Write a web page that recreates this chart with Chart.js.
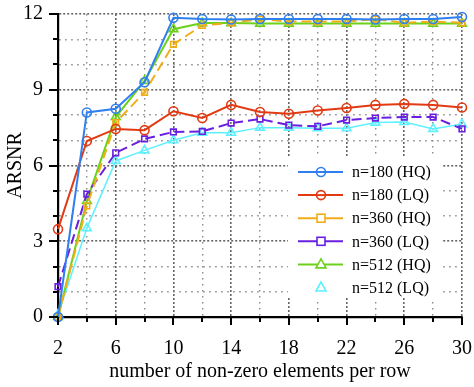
<!DOCTYPE html>
<html>
<head>
<meta charset="utf-8">
<script src="https://cdn.jsdelivr.net/npm/chart.js@4/dist/chart.umd.min.js"></script>
<style>
html,body{margin:0;padding:0;background:#fff;}
#c{display:block;}
</style>
</head>
<body>
<canvas id="c" width="474" height="387"></canvas>
<script>
const xValues = [2,4,6,8,10,12,14,16,18,20,22,24,26,28,30];
const n180HQ = [0, 8.1, 8.25, 9.3, 11.85, 11.8, 11.78, 11.8, 11.8, 11.8, 11.8, 11.78, 11.8, 11.8, 11.88];
const n180LQ = [3.48, 6.97, 7.45, 7.4, 8.15, 7.88, 8.4, 8.12, 8.05, 8.18, 8.28, 8.4, 8.44, 8.4, 8.3];
const n360HQ = [0, 4.4, 7.7, 8.9, 10.8, 11.55, 11.65, 11.8, 11.7, 11.7, 11.7, 11.8, 11.65, 11.7, 11.65];
const n360LQ = [1.2, 4.87, 6.5, 7.05, 7.33, 7.35, 7.68, 7.84, 7.6, 7.55, 7.8, 7.88, 7.92, 7.92, 7.45];
const n512HQ = [0, 4.6, 7.92, 9.35, 11.4, 11.64, 11.64, 11.62, 11.62, 11.62, 11.62, 11.62, 11.62, 11.62, 11.62];
const n512LQ = [0.1, 3.52, 6.18, 6.6, 7.0, 7.3, 7.3, 7.5, 7.5, 7.48, 7.48, 7.7, 7.72, 7.45, 7.64];
const seriesLabels = ['n=180 (HQ)','n=180 (LQ)','n=360 (HQ)','n=360 (LQ)','n=512 (HQ)','n=512 (LQ)'];
const xTickLabels = [2,6,10,14,18,22,26,30];
const yTickLabels = [0,3,6,9,12];
const xTitle = 'number of non-zero elements per row';
const yTitle = 'ARSNR';

const FONT = '"Liberation Serif","Times New Roman",serif';
const colors = ['#2f7ff0','#e23a12','#f0ad1a','#6a1fe0','#6dd11c','#5ef0ff'];
const styles = [
  {pt:'circle', r:4.5, dash:[], w:2},
  {pt:'circle', r:4.5, dash:[], w:2},
  {pt:'rect', r:4, dash:[10,5], w:2},
  {pt:'rect', r:4, dash:[10,5], w:2},
  {pt:'triangle', r:5, dash:[], w:2},
  {pt:'triangle', r:5, dash:[], w:1.5}
];
const seriesData = [n180HQ, n180LQ, n360HQ, n360LQ, n512HQ, n512LQ];

const datasets = seriesData.map((arr, i) => ({
  label: seriesLabels[i],
  data: xValues.map((x, j) => ({x: x, y: arr[j]})),
  borderColor: colors[i],
  backgroundColor: 'rgba(0,0,0,0)',
  borderWidth: styles[i].w,
  borderDash: styles[i].dash,
  pointStyle: styles[i].pt,
  pointRadius: styles[i].r,
  pointBorderWidth: 1.6,
  pointBorderColor: colors[i],
  pointBackgroundColor: 'rgba(0,0,0,0)',
  tension: 0,
  clip: false
}));

const isMajorX = v => xTickLabels.includes(v);
const isMajorY = v => yTickLabels.includes(v);

const extras = {
  id: 'extras',
  afterDraw(chart) {
    const ctx = chart.ctx;
    const xs = chart.scales.x, ys = chart.scales.y;
    const area = chart.chartArea;
    ctx.save();
    ctx.strokeStyle = '#000';
    ctx.lineWidth = 2;
    ctx.setLineDash([]);
    for (let v = 2; v <= 30; v += 2) {
      const px = Math.round(xs.getPixelForValue(v));
      const len = isMajorX(v) ? 8 : 5;
      ctx.beginPath();
      ctx.moveTo(px, area.bottom);
      ctx.lineTo(px, area.bottom + len);
      ctx.stroke();
    }
    for (let v = 0; v <= 12; v += 1) {
      const py = Math.round(ys.getPixelForValue(v));
      const len = isMajorY(v) ? 9 : 5;
      ctx.beginPath();
      ctx.moveTo(area.left, py);
      ctx.lineTo(area.left - len, py);
      ctx.stroke();
    }
    const bx = 288, by = 158, bw = 155, bh = 140;
    ctx.fillStyle = '#fff';
    ctx.fillRect(bx, by, bw, bh);
    ctx.font = '16px ' + FONT;
    ctx.textBaseline = 'middle';
    ctx.textAlign = 'left';
    for (let i = 0; i < seriesLabels.length; i++) {
      const y = 172 + i * 23.1;
      const c = colors[i];
      ctx.strokeStyle = c;
      ctx.lineWidth = styles[i].w;
      if (i < 5) {
        ctx.setLineDash([]);
        ctx.beginPath();
        ctx.moveTo(298, y);
        ctx.lineTo(343, y);
        ctx.stroke();
      }
      ctx.setLineDash([]);
      ctx.lineWidth = 1.6;
      const mx = 321;
      ctx.beginPath();
      if (styles[i].pt === 'circle') {
        ctx.fillStyle = '#fff';
        ctx.arc(mx, y, 4.5, 0, Math.PI * 2);
        ctx.fill();
        ctx.stroke();
        ctx.beginPath();
        ctx.lineWidth = styles[i].w;
        ctx.moveTo(mx - 4.5, y); ctx.lineTo(mx + 4.5, y);
        ctx.stroke();
      } else if (styles[i].pt === 'rect') {
        ctx.fillStyle = '#fff';
        ctx.fillRect(mx - 4, y - 4, 8, 8);
        ctx.strokeRect(mx - 4, y - 4, 8, 8);
      } else {
        ctx.fillStyle = '#fff';
        ctx.moveTo(mx, y - 5.5);
        ctx.lineTo(mx + 5, y + 3.5);
        ctx.lineTo(mx - 5, y + 3.5);
        ctx.closePath();
        ctx.fill();
        ctx.stroke();
      }
      ctx.fillStyle = '#000';
      ctx.fillText(seriesLabels[i], 352, y + 1);
    }
    ctx.restore();
  }
};

new Chart(document.getElementById('c'), {
  type: 'line',
  data: { datasets: datasets },
  options: {
    responsive: false,
    animation: false,
    devicePixelRatio: 1,
    layout: { padding: { top: 14, right: 12, left: 0, bottom: 0 } },
    plugins: { legend: { display: false }, tooltip: { enabled: false } },
    scales: {
      x: {
        type: 'linear',
        min: 2, max: 30,
        afterFit: s => { s.height = 70; s.paddingLeft = 0; s.paddingRight = 0; },
        ticks: {
          stepSize: 2,
          autoSkip: false,
          maxRotation: 0,
          padding: 20,
          color: '#000',
          font: { family: FONT, size: 20 },
          callback: v => isMajorX(v) ? String(v) : ''
        },
        grid: {
          drawTicks: false,
          color: c => isMajorX(c.tick.value) ? '#666' : '#8a8a8a',
          lineWidth: c => isMajorX(c.tick.value) ? 1.6 : 1.4
        },
        border: {
          display: true, color: '#000', width: 2.2,
          dash: c => isMajorX(c.tick.value) ? [2, 2] : [1.5, 4.5]
        },
        title: {
          display: true, text: xTitle, color: '#000',
          font: { family: FONT, size: 20 },
          padding: { top: 0, bottom: 3 }
        }
      },
      y: {
        type: 'linear',
        min: 0, max: 12,
        afterFit: s => { s.width = 58; s.paddingTop = 0; s.paddingBottom = 0; },
        ticks: {
          stepSize: 1,
          autoSkip: false,
          padding: 15,
          color: '#000',
          font: { family: FONT, size: 20 },
          callback: v => isMajorY(v) ? String(v) : ''
        },
        grid: {
          drawTicks: false,
          color: c => isMajorY(c.tick.value) ? '#666' : '#8a8a8a',
          lineWidth: c => isMajorY(c.tick.value) ? 1.6 : 1.4
        },
        border: {
          display: true, color: '#000', width: 2.2,
          dash: c => isMajorY(c.tick.value) ? [2, 2] : [1.5, 4.5]
        },
        title: {
          display: true, text: yTitle, color: '#000',
          font: { family: FONT, size: 20 },
          padding: { top: 4, bottom: 0 }
        }
      }
    }
  },
  plugins: [extras]
});
</script>
</body>
</html>
